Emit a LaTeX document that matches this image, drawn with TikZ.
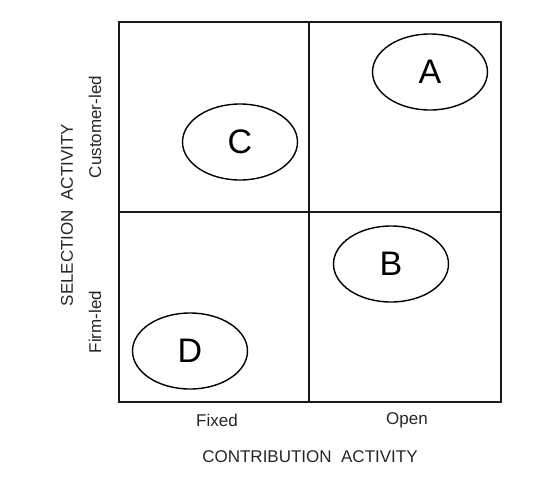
\documentclass[tikz,border=0pt]{standalone}
\usepackage{fontspec}
\setmainfont{Liberation Sans}
\usepackage{tikz}
\usetikzlibrary{shapes}
\usetikzlibrary{positioning,calc}
\tikzstyle{Group}=[shape=ellipse,draw=black,line width=1.4pt,minimum width=115pt,minimum height=76pt,inner sep=0pt,font=\fontsize{34}{38}\selectfont]
\tikzstyle{Axis}=[font=\fontsize{17}{20}\selectfont,text=black!85]
\tikzstyle{gridline}=[line width=1.8pt,black!90]

\begin{document}
\begin{tikzpicture}[x=1pt,y=-1pt]

\useasboundingbox (0,0) rectangle (559,488);

% quadrants
\draw[gridline] (119,22) rectangle (501,402);
\draw[gridline] (309,22) -- (309,402);
\draw[gridline] (119,212) -- (501,212);

\node[Group] (A) at (430,72){A};
\node[Group] (B) at (391,264){B};
\node[Group] (C) at (240,142){C};
\node[Group] (D) at (190,351){D};

\node[Axis] (FIXED) at (217,420){Fixed};
\node[Axis] (OPEN) at (407,420){Open};
\node[Axis] (CONTRIB) at (310,457){CONTRIBUTION\ \ ACTIVITY};

\node[Axis,rotate=90] (CUST) at (95,127){Customer-led};
\node[Axis,rotate=90] (FIRM) at (95,322){Firm-led};
\node[Axis,rotate=90] (SELECT) at (67,215){SELECTION\ \ ACTIVITY};

\end{tikzpicture}
\end{document}
